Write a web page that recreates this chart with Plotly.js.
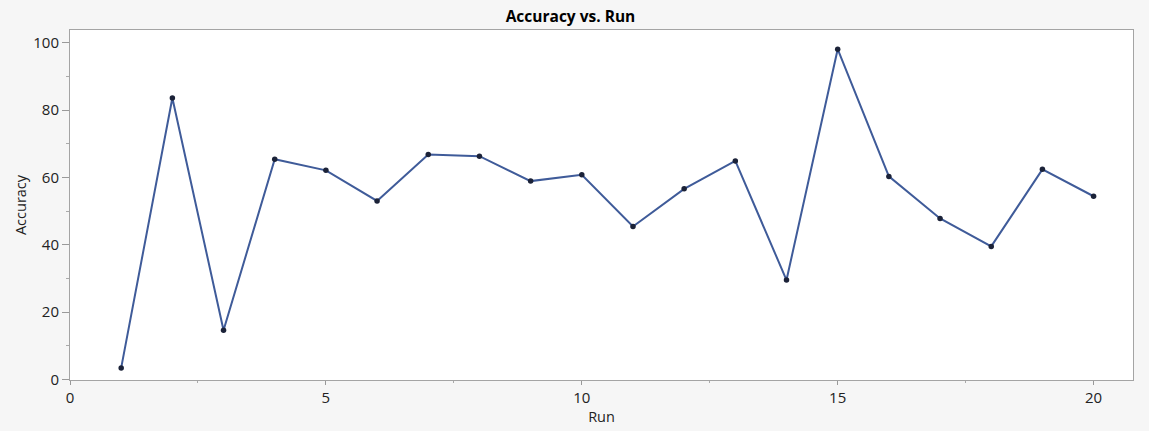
<!DOCTYPE html>
<html>
<head>
<meta charset="utf-8">
<script src="https://cdn.plot.ly/plotly-3.0.1.min.js"></script>
<style>html,body{margin:0;padding:0;background:#f6f6f6;}#chart{width:1149px;height:431px;}</style>
</head>
<body>
<div id="chart"></div>
<script>
const runs = [1,2,3,4,5,6,7,8,9,10,11,12,13,14,15,16,17,18,19,20];
const accuracy = [3.4,83.6,14.6,65.4,62.1,53.0,66.8,66.3,58.9,60.8,45.4,56.6,64.9,29.5,98.1,60.3,47.8,39.5,62.4,54.4];
const xTicks = [0,5,10,15,20];
const yTicks = [0,20,40,60,80,100];

const font = "'Open Sans', 'Noto Sans', sans-serif";
const trace = {
  x: runs, y: accuracy, type: 'scatter', mode: 'lines+markers',
  line: {color: '#3f5b99', width: 2},
  marker: {color: '#1b2238', size: 5.5},
  hoverinfo: 'x+y'
};
const layout = {
  width: 1149, height: 431,
  margin: {l: 70, r: 16, t: 30, b: 51},
  paper_bgcolor: '#f6f6f6', plot_bgcolor: '#ffffff',
  showlegend: false,
  font: {family: font, size: 14, color: '#222'},
  title: {text: '<b>Accuracy vs. Run</b>', x: 0.4965, xanchor: 'center', y: 0.962, yanchor: 'middle', font: {family: font, size: 15.5, color: '#000'}},
  xaxis: {
    range: [0, 20.77], tickvals: xTicks, ticktext: xTicks.map(String),
    ticks: 'outside', ticklen: 4, tickcolor: '#999', tickwidth: 1,
    minor: {dtick: 2.5, tick0: 0, ticks: 'outside', ticklen: 2, tickcolor: '#aaa', showgrid: false},
    showgrid: false, zeroline: false, showline: true, mirror: true, linecolor: '#a4a4a4', linewidth: 1,
    tickfont: {size: 15, color: '#222'},
    title: {text: 'Run', font: {size: 14.5, color: '#222'}, standoff: 4}
  },
  yaxis: {
    range: [-0.2, 103.8], tickvals: yTicks, ticktext: yTicks.map(String),
    ticks: 'outside', ticklen: 7, tickcolor: '#999', tickwidth: 1,
    minor: {dtick: 10, tick0: 0, ticks: 'outside', ticklen: 3, tickcolor: '#aaa', showgrid: false},
    showgrid: false, zeroline: false, showline: true, mirror: true, linecolor: '#a4a4a4', linewidth: 1,
    tickfont: {size: 15, color: '#222'},
    title: {text: 'Accuracy', font: {size: 14.5, color: '#222'}, standoff: 3}
  }
};
Plotly.newPlot('chart', [trace], layout, {displayModeBar: false, responsive: false});
</script>
</body>
</html>
